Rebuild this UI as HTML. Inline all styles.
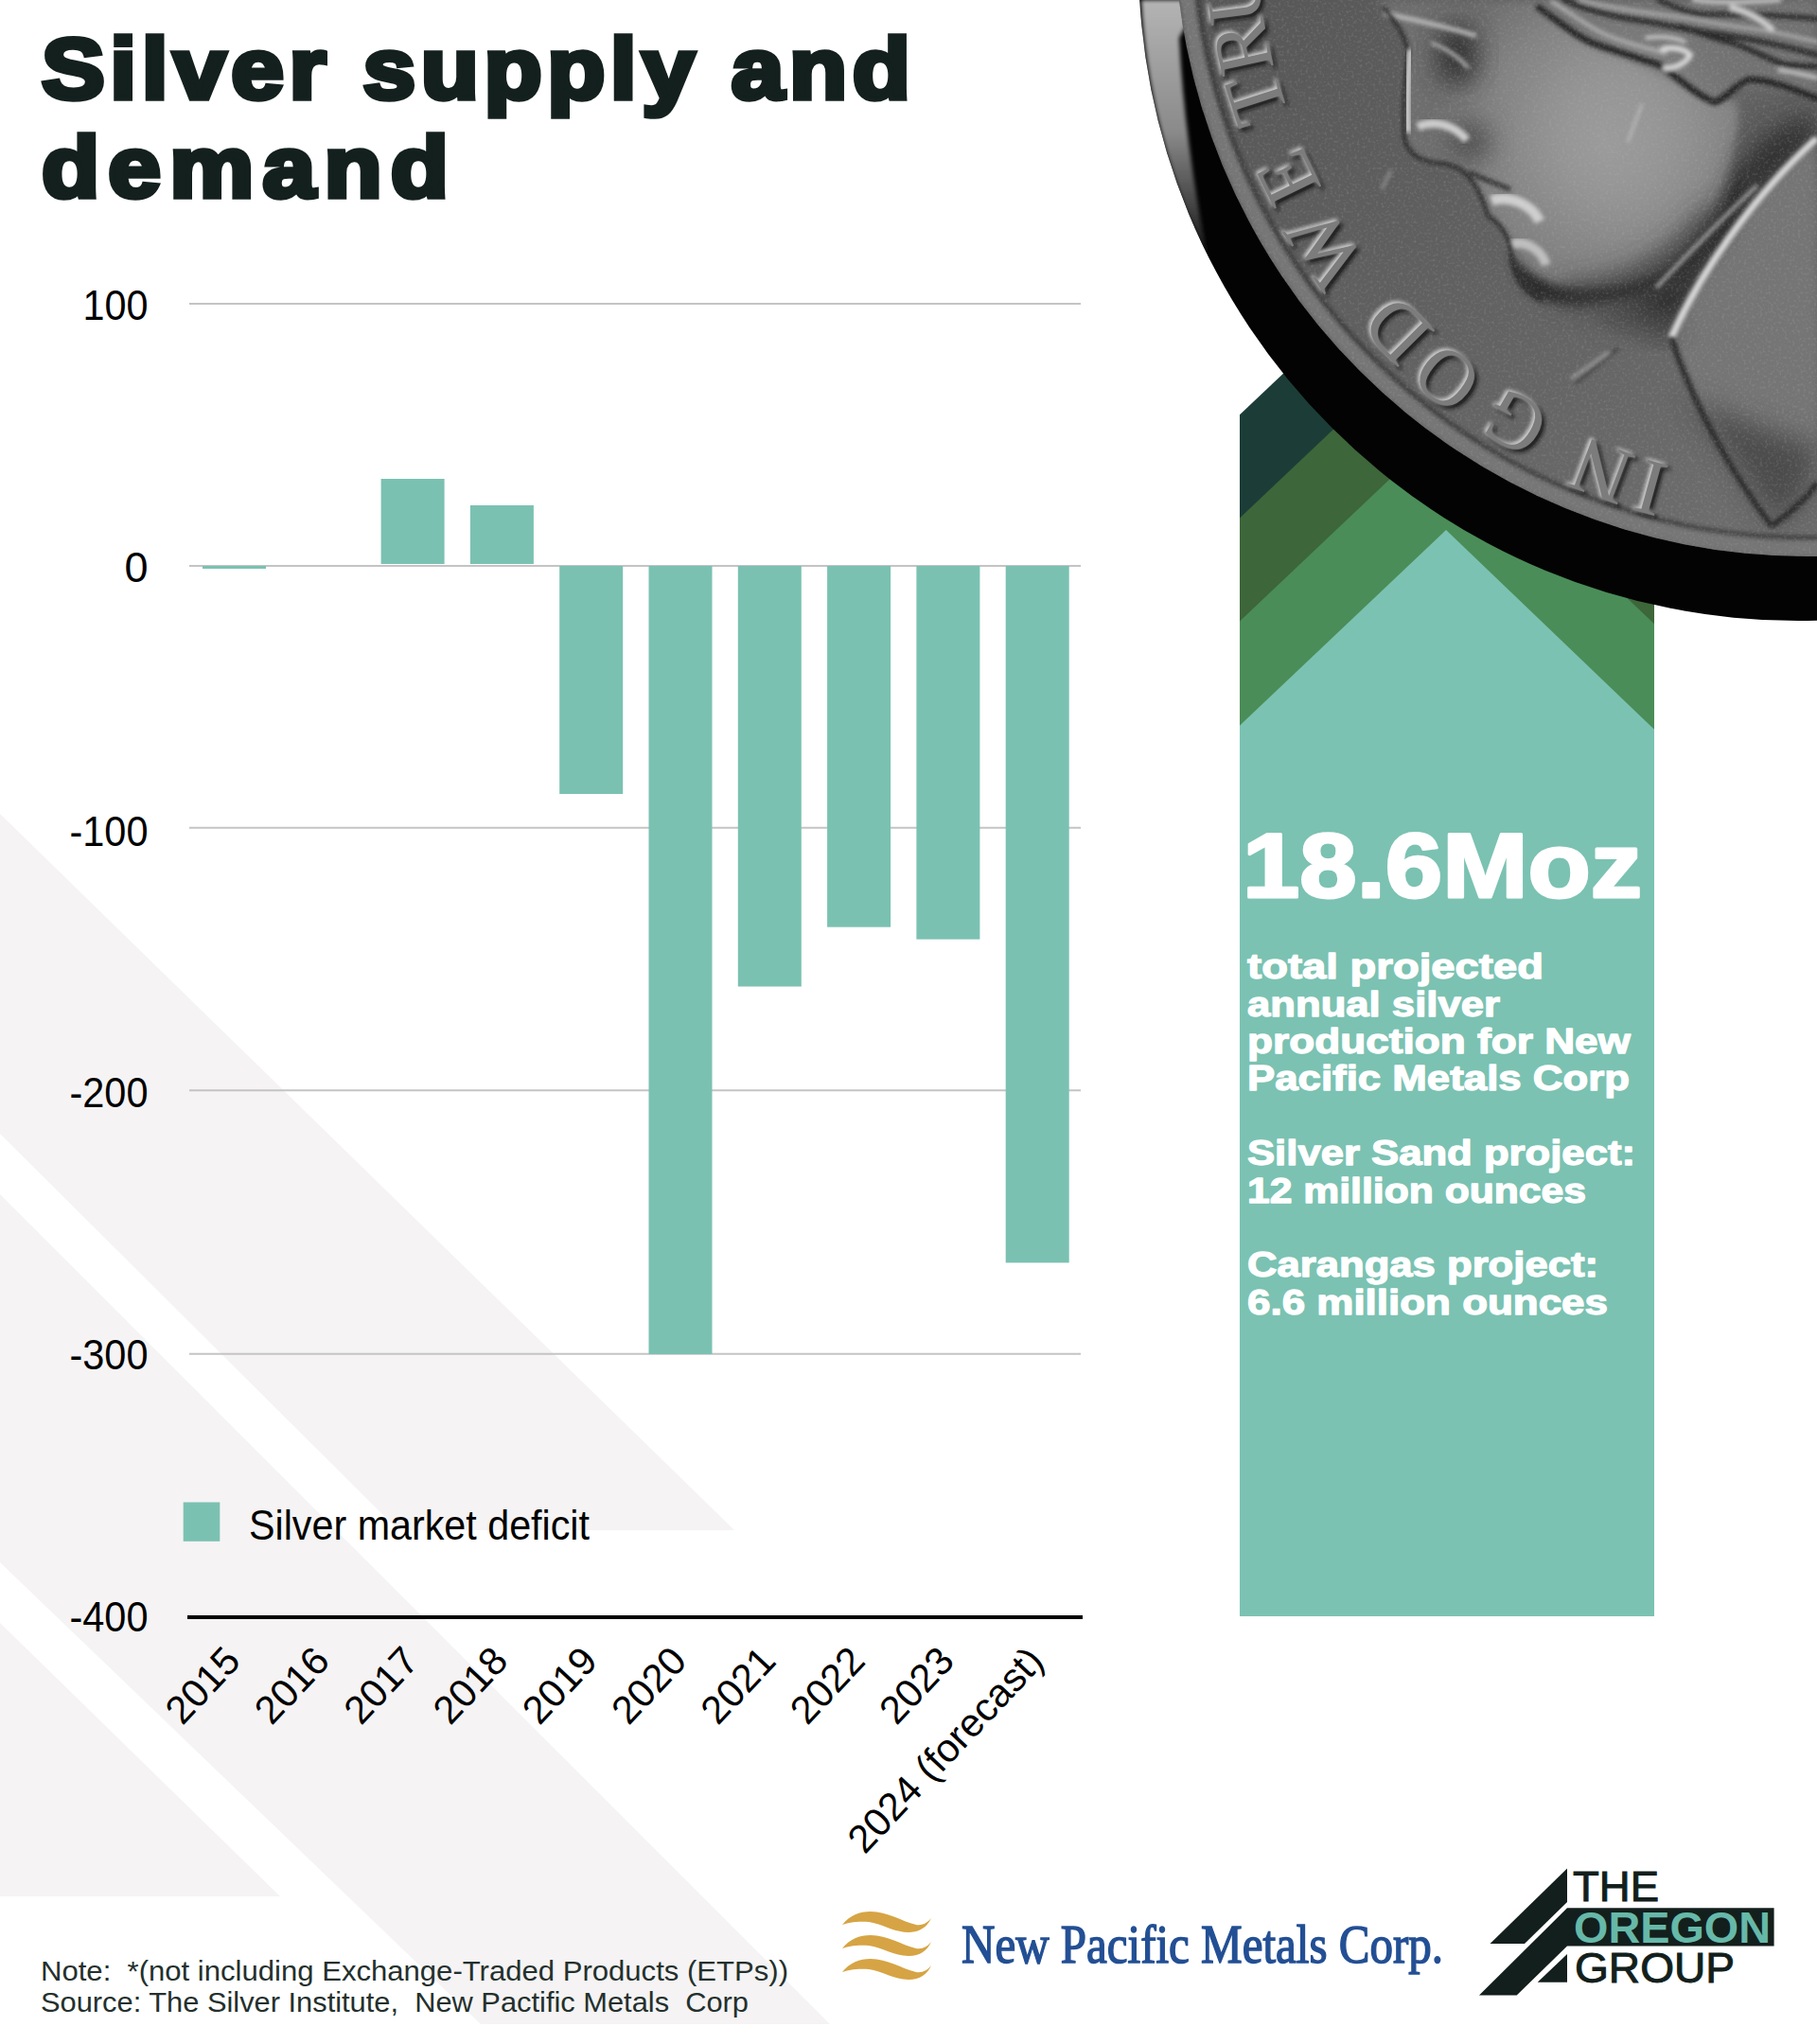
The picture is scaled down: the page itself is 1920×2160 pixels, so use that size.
<!DOCTYPE html>
<html><head><meta charset="utf-8">
<style>
html,body{margin:0;padding:0;background:#fff;width:1920px;height:2160px;overflow:hidden}
svg{display:block}
text{font-family:"Liberation Sans",sans-serif}
.serif,.serif text{font-family:"Liberation Serif",serif}
</style></head>
<body>
<svg width="1920" height="2160" viewBox="0 0 1920 2160">
<!-- background bands -->
<g fill="#f5f3f4">
<polygon points="0,860 776,1617 421,1617 0,1198"/>
<polygon points="0,1262 877,2139 508,2139 0,1651"/>
<polygon points="0,1715 296,2004 0,2004"/>
</g>

<!-- title -->
<g fill="#13201e" stroke="#13201e" stroke-width="5.5" stroke-linejoin="miter" font-weight="bold" font-size="91">
<text transform="scale(1.10,1)" x="40.00" y="104.5" textLength="834.5" lengthAdjust="spacing">Silver supply and</text>
<text transform="scale(1.10,1)" x="40.00" y="208.5" textLength="390.9" lengthAdjust="spacing">demand</text>
</g>

<!-- chart grid -->
<g stroke="#c4c4c4" stroke-width="2">
<line x1="200" y1="321" x2="1142" y2="321"/>
<line x1="200" y1="598" x2="1142" y2="598"/>
<line x1="200" y1="874.7" x2="1142" y2="874.7"/>
<line x1="200" y1="1152.3" x2="1142" y2="1152.3"/>
<line x1="200" y1="1430.7" x2="1142" y2="1430.7"/>
</g>
<g fill="#7bc1b1">
<rect x="214" y="598" width="67" height="3"/>
<rect x="402.6" y="506" width="67" height="90"/>
<rect x="496.9" y="534" width="67" height="62"/>
<rect x="591.2" y="598" width="67" height="241"/>
<rect x="685.5" y="598" width="67" height="833"/>
<rect x="779.8" y="598" width="67" height="444.5"/>
<rect x="874.1" y="598" width="67" height="381.7"/>
<rect x="968.4" y="598" width="67" height="394.6"/>
<rect x="1062.7" y="598" width="67" height="736.4"/>
</g>
<line x1="198" y1="1709" x2="1144" y2="1709" stroke="#000" stroke-width="4"/>
<g font-size="45" fill="#000" text-anchor="end">
<text x="156.5" y="337.5" textLength="69" lengthAdjust="spacingAndGlyphs">100</text>
<text x="156.5" y="614.5">0</text>
<text x="156.5" y="893.5" textLength="83" lengthAdjust="spacingAndGlyphs">-100</text>
<text x="156.5" y="1170" textLength="83" lengthAdjust="spacingAndGlyphs">-200</text>
<text x="156.5" y="1447" textLength="83" lengthAdjust="spacingAndGlyphs">-300</text>
<text x="156.5" y="1724" textLength="83" lengthAdjust="spacingAndGlyphs">-400</text>
</g>
<g font-size="41.5" fill="#000" text-anchor="end">
<text transform="translate(256.0,1757) rotate(-46.8)">2015</text>
<text transform="translate(350.3,1757) rotate(-46.8)">2016</text>
<text transform="translate(444.6,1757) rotate(-46.8)">2017</text>
<text transform="translate(538.9,1757) rotate(-46.8)">2018</text>
<text transform="translate(633.2,1757) rotate(-46.8)">2019</text>
<text transform="translate(727.5,1757) rotate(-46.8)">2020</text>
<text transform="translate(821.8,1757) rotate(-46.8)">2021</text>
<text transform="translate(916.1,1757) rotate(-46.8)">2022</text>
<text transform="translate(1010.4,1757) rotate(-46.8)">2023</text>
<text transform="translate(1104.7,1757) rotate(-46.8)">2024 (forecast)</text>
</g>
<!-- legend -->
<rect x="193.7" y="1587.5" width="38.6" height="41.3" fill="#7bc1b1"/>
<text x="263" y="1627" font-size="44" fill="#000" textLength="360" lengthAdjust="spacingAndGlyphs">Silver market deficit</text>

<!-- panel -->
<polygon fill="#1c3d37" points="1310,438.3 1528,232 1748,441 1748,1708 1310,1708"/>
<polygon fill="#3d663a" points="1310,547.4 1528,341 1748,550 1748,1708 1310,1708"/>
<polygon fill="#4a8d58" points="1310,656.6 1528,450 1748,659.3 1748,1708 1310,1708"/>
<polygon fill="#7bc2b2" points="1310,766.7 1528,560 1748,770.8 1748,1708 1310,1708"/>

<g fill="#fff" stroke="#fff" stroke-linejoin="round" font-weight="bold">
<text x="1313" y="947.5" font-size="96" stroke-width="3" textLength="422" lengthAdjust="spacingAndGlyphs">18.6Moz</text>
<g font-size="37.6" stroke-width="1.3">
<text x="1318" y="1033.8" textLength="313" lengthAdjust="spacingAndGlyphs">total projected</text>
<text x="1318" y="1073.5" textLength="267" lengthAdjust="spacingAndGlyphs">annual silver</text>
<text x="1318" y="1113.3" textLength="405" lengthAdjust="spacingAndGlyphs">production for New</text>
<text x="1318" y="1152.2" textLength="404" lengthAdjust="spacingAndGlyphs">Pacific Metals Corp</text>
<text x="1318" y="1231" textLength="410" lengthAdjust="spacingAndGlyphs">Silver Sand project:</text>
<text x="1318" y="1270.8" textLength="358" lengthAdjust="spacingAndGlyphs">12 million ounces</text>
<text x="1318" y="1349.4" textLength="371" lengthAdjust="spacingAndGlyphs">Carangas project:</text>
<text x="1318" y="1389" textLength="381" lengthAdjust="spacingAndGlyphs">6.6 million ounces</text>
</g>
</g>

<!-- coin -->
<defs>
<clipPath id="faceclip"><circle cx="1910" cy="-81" r="669"/></clipPath>
<clipPath id="c1clip"><circle cx="1900" cy="-41" r="697"/></clipPath>
<linearGradient id="fieldg" x1="1300" y1="60" x2="1800" y2="560" gradientUnits="userSpaceOnUse">
<stop offset="0" stop-color="#585858"/>
<stop offset="0.5" stop-color="#616161"/>
<stop offset="1" stop-color="#6c6c6c"/>
</linearGradient>
<radialGradient id="faceg" cx="1700" cy="150" r="190" gradientUnits="userSpaceOnUse">
<stop offset="0" stop-color="#959595"/>
<stop offset="0.7" stop-color="#828282"/>
<stop offset="1" stop-color="#6e6e6e"/>
</radialGradient>
<linearGradient id="sideg" x1="0" y1="0" x2="0" y2="280" gradientUnits="userSpaceOnUse">
<stop offset="0" stop-color="#b4b4b4"/>
<stop offset="0.5" stop-color="#8a8a8a"/>
<stop offset="0.8" stop-color="#3e3e3e"/>
<stop offset="1" stop-color="#0a0a0a"/>
</linearGradient>
<filter id="grain" x="0" y="0" width="100%" height="100%"><feTurbulence type="fractalNoise" baseFrequency="0.35" numOctaves="2" seed="3"/><feColorMatrix values="0 0 0 0 0.5  0 0 0 0 0.5  0 0 0 0 0.5  0 0 0 1.1 -0.55"/></filter>
<filter id="b2" x="-20%" y="-20%" width="140%" height="140%"><feGaussianBlur stdDeviation="2"/></filter>
<filter id="b5" x="-30%" y="-30%" width="160%" height="160%"><feGaussianBlur stdDeviation="5"/></filter>
<filter id="b14" x="-50%" y="-50%" width="200%" height="200%"><feGaussianBlur stdDeviation="14"/></filter>
<filter id="b30" x="-50%" y="-50%" width="200%" height="200%"><feGaussianBlur stdDeviation="30"/></filter>
</defs>
<g id="coin">
<circle cx="1900" cy="-41" r="697" fill="#030303"/>
<path d="M1206,0 C1210,90 1235,190 1276,272 C1262,200 1250,120 1246,40 L1268,0 Z" fill="url(#sideg)" filter="url(#b2)" clip-path="url(#c1clip)"/>
<circle cx="1910" cy="-81" r="669" fill="url(#fieldg)"/>
<g clip-path="url(#faceclip)">
<circle cx="1910" cy="-81" r="660" fill="none" stroke="#767676" stroke-width="16" filter="url(#b2)"/>
<circle cx="1910" cy="-81" r="649" fill="none" stroke="#2e2e2e" stroke-width="3" filter="url(#b2)"/>
<!-- face region -->
<path d="M1455,0 L1462,10 C1478,28 1490,45 1487,62 C1484,90 1482,120 1484,148 C1490,166 1505,172 1525,173 C1545,176 1552,186 1560,198 C1566,210 1570,220 1572,228 C1585,236 1594,250 1596,262 C1598,285 1605,305 1630,318 C1680,322 1740,310 1770,292 C1800,262 1830,220 1840,152 C1842,120 1838,106 1827,106 C1790,96 1751,71 1688,51 C1665,35 1650,15 1637,0 Z" fill="url(#faceg)" filter="url(#b5)"/>
<!-- neck & coat -->
<path d="M1840,110 C1880,100 1905,90 1920,80 L1920,148 C1860,200 1800,280 1766,357 C1740,340 1720,325 1700,318 C1760,300 1830,230 1840,110 Z" fill="#5e5e5e" filter="url(#b5)"/>
<path d="M1700,322 C1760,305 1815,250 1838,180 C1850,150 1880,130 1920,120 L1920,150 C1870,190 1810,270 1768,352 C1745,338 1722,328 1700,322 Z" fill="#2e2e2e" filter="url(#b14)"/>
<path d="M1920,148 C1860,200 1800,280 1766,357 C1790,430 1830,500 1872,556 C1895,540 1915,520 1920,510 Z" fill="#747474" filter="url(#b5)"/>
<path d="M1780,420 C1820,470 1850,520 1875,556 C1900,540 1920,520 1920,470 C1880,460 1830,440 1780,420 Z" fill="#3a3a3a" opacity="0.7" filter="url(#b14)"/>
<!-- hair -->
<path d="M1626,0 C1650,25 1670,42 1690,48 C1740,64 1790,100 1812,108 C1835,88 1870,84 1920,104 L1920,0 Z" fill="#727272" filter="url(#b5)"/>
<!-- cheek highlight -->
<ellipse cx="1710" cy="140" rx="90" ry="100" fill="#a4a4a4" opacity="0.4" filter="url(#b30)"/>
<!-- under jaw shadow -->
<path d="M1596,265 C1598,300 1615,322 1660,322 C1720,322 1790,300 1828,240 C1840,215 1845,190 1843,170 C1830,215 1800,262 1760,285 C1720,305 1670,310 1640,300 C1620,292 1605,280 1596,265 Z" fill="#2a2a2a" filter="url(#b5)"/>
<path d="M1650,312 C1710,312 1770,285 1815,225" fill="none" stroke="#3a3a3a" stroke-width="22" filter="url(#b14)"/>
<path d="M1690,330 C1730,335 1755,345 1766,357" fill="none" stroke="#444" stroke-width="18" filter="url(#b14)"/>
<!-- eye -->
<ellipse cx="1540" cy="58" rx="22" ry="34" fill="#333" filter="url(#b14)"/>
<path d="M1462,14 C1490,20 1530,28 1560,38" fill="none" stroke="#b8b8b8" stroke-width="5" filter="url(#b2)"/>
<path d="M1512,45 C1525,50 1540,58 1552,72" fill="none" stroke="#aaaaaa" stroke-width="4" filter="url(#b2)"/>
<ellipse cx="1552" cy="150" rx="24" ry="22" fill="#505050" filter="url(#b14)"/>
<!-- mouth line -->
<path d="M1552,182 C1565,188 1580,194 1596,200" fill="none" stroke="#333" stroke-width="5" filter="url(#b2)"/>
<!-- profile dark edge -->
<path d="M1462,8 C1478,28 1490,45 1487,62 C1484,90 1482,120 1484,148 C1490,166 1505,172 1525,173 C1545,176 1552,186 1560,198 C1566,210 1570,220 1572,228 C1585,236 1594,250 1596,262 C1598,285 1605,305 1630,318" fill="none" stroke="#262626" stroke-width="4" filter="url(#b2)"/>
<!-- highlights -->
<path d="M1490,52 C1488,80 1486,110 1488,140" fill="none" stroke="#d6d6d6" stroke-width="6" filter="url(#b2)"/>
<path d="M1498,134 C1515,126 1537,132 1550,148" fill="none" stroke="#cdcdcd" stroke-width="9" filter="url(#b2)"/>
<path d="M1576,212 C1592,206 1618,214 1627,234" fill="none" stroke="#cfcfcf" stroke-width="11" filter="url(#b2)"/>
<path d="M1598,258 C1610,254 1628,262 1634,280" fill="none" stroke="#c0c0c0" stroke-width="10" filter="url(#b2)"/>
<!-- hair strands -->
<g fill="none" stroke-linecap="round" filter="url(#b2)">
<path d="M1626,8 C1650,25 1670,42 1690,48 C1720,58 1740,64 1752,68 C1770,78 1790,100 1812,108 C1825,104 1835,88 1848,84 C1870,84 1895,94 1920,104" stroke="#262626" stroke-width="7"/>
<path d="M1640,2 C1660,14 1680,30 1700,38 C1725,48 1745,52 1760,56" stroke="#b0b0b0" stroke-width="4"/>
<path d="M1653,0 C1680,12 1705,18 1735,22 C1770,28 1795,34 1815,36 C1845,40 1875,46 1920,58" stroke="#2e2e2e" stroke-width="6"/>
<path d="M1670,0 C1700,8 1730,12 1760,16 C1790,20 1815,26 1850,30 C1880,34 1900,40 1920,44" stroke="#a8a8a8" stroke-width="4"/>
<path d="M1753,0 C1770,8 1785,14 1800,15 C1830,16 1860,14 1920,20" stroke="#303030" stroke-width="6"/>
<path d="M1776,28 C1795,34 1815,42 1830,45 C1850,52 1868,62 1885,68 C1900,70 1910,70 1920,70" stroke="#2a2a2a" stroke-width="6"/>
<path d="M1830,8 C1845,12 1860,20 1872,30" stroke="#d0d0d0" stroke-width="6"/>
<path d="M1757,52 C1765,50 1778,50 1786,58 C1782,66 1772,72 1760,72" stroke="#d8d8d8" stroke-width="6"/>
<path d="M1740,40 C1755,38 1770,40 1780,44" stroke="#c8c8c8" stroke-width="4"/>
<path d="M1790,0 C1820,4 1850,2 1880,0" stroke="#c0c0c0" stroke-width="5"/>
<path d="M1880,74 C1895,76 1910,80 1920,82" stroke="#c8c8c8" stroke-width="4"/>
</g>
<!-- collar -->
<path d="M1920,146 C1860,200 1800,280 1766,357" fill="none" stroke="#dcdcdc" stroke-width="7" filter="url(#b2)"/>
<path d="M1766,357 C1790,430 1830,500 1872,556" fill="none" stroke="#2a2a2a" stroke-width="6" filter="url(#b2)"/>
<path d="M1872,556 C1895,540 1915,520 1920,510" fill="none" stroke="#2a2a2a" stroke-width="6" filter="url(#b2)"/>
<path d="M1857,196 C1830,220 1790,262 1750,304" fill="none" stroke="#9c9c9c" stroke-width="4" filter="url(#b2)"/>
<rect x="1200" y="0" width="720" height="680" filter="url(#grain)" opacity="0.5"/>
<!-- scratches -->
<g fill="none" stroke-width="2" filter="url(#b2)">
<path d="M1660,400 L1700,372" stroke="#c0c0c0"/>
<path d="M1665,405 L1710,368" stroke="#2e2e2e"/>
<path d="M1720,150 L1735,110" stroke="#c8c8c8"/>
<path d="M1460,200 L1470,180" stroke="#aaa"/>
</g>
</g>
<!-- lettering -->
<g class="serif" font-size="84" text-anchor="middle" dominant-baseline="central">
<g fill="#121212" filter="url(#b2)">
<text transform="translate(1747.3,519.5) rotate(195.5)">I</text>
<text transform="translate(1695.2,501.4) rotate(200.6)">N</text>
<text transform="translate(1603.3,449.9) rotate(210.4)">G</text>
<text transform="translate(1531.6,403.2) rotate(218.4)">O</text>
<text transform="translate(1479.5,352.5) rotate(225.2)">D</text>
<text transform="translate(1402.3,266.5) rotate(236.0)">W</text>
<text transform="translate(1363.4,191.2) rotate(243.9)">E</text>
<text transform="translate(1330.0,108.1) rotate(252.3)">T</text>
<text transform="translate(1315.3,53.4) rotate(257.6)">R</text>
<text transform="translate(1305.8,-1.3) rotate(262.8)">U</text>
</g>
<g fill="#d8d8d8" filter="url(#b2)">
<text transform="translate(1742.3,514.5) rotate(195.5)">I</text>
<text transform="translate(1690.2,496.4) rotate(200.6)">N</text>
<text transform="translate(1598.3,444.9) rotate(210.4)">G</text>
<text transform="translate(1526.6,398.2) rotate(218.4)">O</text>
<text transform="translate(1474.5,347.5) rotate(225.2)">D</text>
<text transform="translate(1397.3,261.5) rotate(236.0)">W</text>
<text transform="translate(1358.4,186.2) rotate(243.9)">E</text>
<text transform="translate(1325.0,103.1) rotate(252.3)">T</text>
<text transform="translate(1310.3,48.4) rotate(257.6)">R</text>
<text transform="translate(1300.8,-6.3) rotate(262.8)">U</text>
</g>
<g fill="#7c7c7c">
<text transform="translate(1744.3,516.5) rotate(195.5)">I</text>
<text transform="translate(1692.2,498.4) rotate(200.6)">N</text>
<text transform="translate(1600.3,446.9) rotate(210.4)">G</text>
<text transform="translate(1528.6,400.2) rotate(218.4)">O</text>
<text transform="translate(1476.5,349.5) rotate(225.2)">D</text>
<text transform="translate(1399.3,263.5) rotate(236.0)">W</text>
<text transform="translate(1360.4,188.2) rotate(243.9)">E</text>
<text transform="translate(1327.0,105.1) rotate(252.3)">T</text>
<text transform="translate(1312.3,50.4) rotate(257.6)">R</text>
<text transform="translate(1302.8,-4.3) rotate(262.8)">U</text>
</g>
</g>
</g>

<!-- notes -->
<g fill="#24302d" font-size="29.5">
<text x="43" y="2092.8" textLength="790" lengthAdjust="spacingAndGlyphs">Note: &#160;*(not including Exchange-Traded Products (ETPs))</text>
<text x="43" y="2126.3" textLength="748" lengthAdjust="spacingAndGlyphs">Source: The Silver Institute, &#160;New Pactific Metals &#160;Corp</text>
</g>

<!-- NPM logo -->
<g fill="#d6a444">
<path id="wv" d="M890,2034 C898,2024 908,2020 920,2020 C938,2020 952,2030 968,2034 C975,2035 980,2032 984,2027 C980,2036 972,2042 960,2042 C945,2042 932,2033 918,2031 C905,2030 896,2032 890,2034 Z"/>
<use href="#wv" y="25"/>
<use href="#wv" y="50"/>
</g>
<text class="serif" x="1016" y="2074" font-size="57.5" fill="#234f94" stroke="#234f94" stroke-width="1.5" textLength="509" lengthAdjust="spacingAndGlyphs">New Pacific Metals Corp.</text>

<!-- Oregon logo -->
<g fill="#131f1c">
<polygon points="1656,1974.5 1656,2010 1611,2054 1574.5,2054"/>
<polygon points="1656,2016.3 1874.6,2016.3 1874.6,2056.5 1656,2056.5 1602.7,2108.4 1563,2108.4"/>
<polygon points="1656,2065 1656,2094.8 1624.7,2094.8"/>
</g>
<g font-weight="bold">
<text x="1662" y="2009" font-size="45" fill="#131f1c" stroke="#131f1c" stroke-width="1" font-weight="normal" textLength="91" lengthAdjust="spacingAndGlyphs">THE</text>
<text x="1663" y="2053" font-size="46" fill="#66b8a9" textLength="208" lengthAdjust="spacingAndGlyphs">OREGON</text>
<text x="1664" y="2095" font-size="45" fill="#131f1c" stroke="#131f1c" stroke-width="1" font-weight="normal" textLength="169" lengthAdjust="spacingAndGlyphs">GROUP</text>
</g>
</svg>
</body></html>
